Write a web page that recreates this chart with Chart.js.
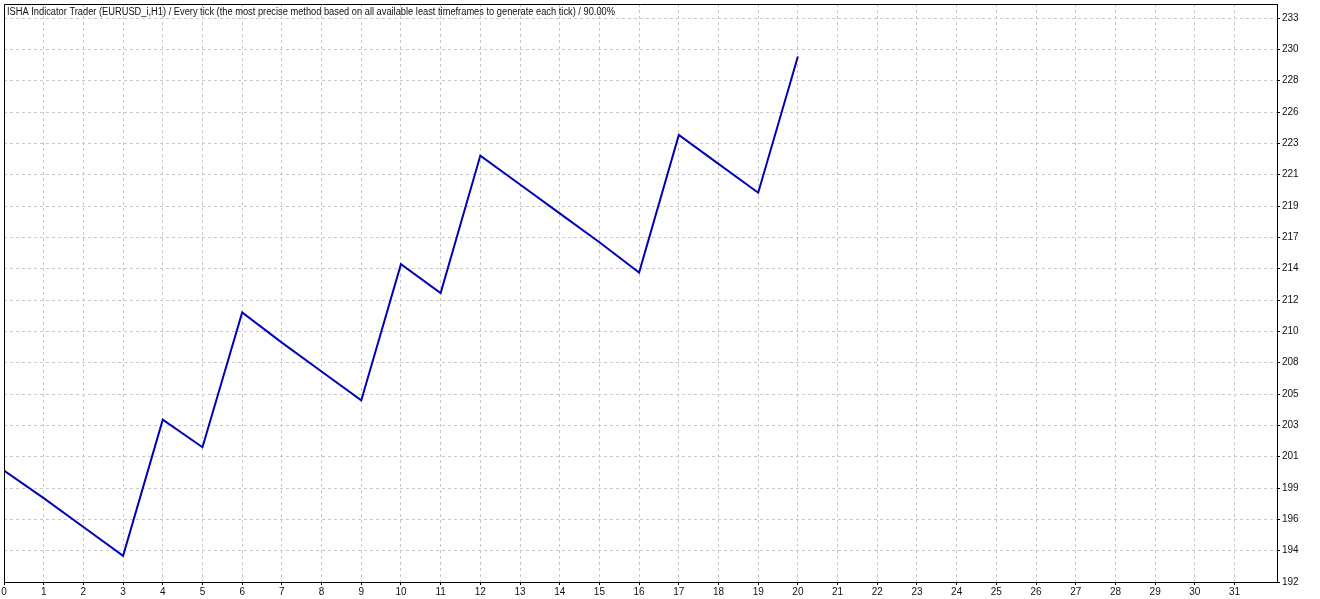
<!DOCTYPE html>
<html>
<head>
<meta charset="utf-8">
<title>ISHA Indicator Trader</title>
<script src="https://cdn.jsdelivr.net/npm/chart.js@4/dist/chart.umd.min.js"></script>
<style>
  html, body { margin: 0; padding: 0; background: #fff; }
  #wrap { width: 1320px; height: 599px; }
</style>
</head>
<body>
<div id="wrap"><canvas id="chart" width="1320" height="599"></canvas></div>
<script>
// balance curve, one value per closed trade
const tradeNumbers = [0, 1, 2, 3, 4, 5, 6, 7, 8, 9, 10, 11, 12, 13, 14, 15, 16, 17, 18, 19, 20];
const balance = [200.1, 198.1, 196.0, 193.9, 203.8, 201.8, 211.6, 209.4, 207.3, 205.2,
                 215.1, 213.0, 223.0, 220.9, 218.8, 216.7, 214.5, 224.5, 222.4, 220.3, 230.2];

// axis ticks as MT4 prints them
const xTicks = [0, 1, 2, 3, 4, 5, 6, 7, 8, 9, 10, 11, 12, 13, 14, 15, 16, 17, 18, 19, 20,
                21, 22, 23, 24, 25, 26, 27, 28, 29, 30, 31];
const yTickLabels = ["192", "194", "196", "199", "201", "203", "205", "208", "210", "212",
                     "214", "217", "219", "221", "223", "226", "228", "230", "233"];

const TITLE = "ISHA Indicator Trader (EURUSD_i,H1) / Every tick (the most precise method based on all available least timeframes to generate each tick) / 90.00%";

const Y_LOW = 192, Y_HIGH = 233;
const Y_STEP = (Y_HIGH - Y_LOW) / (yTickLabels.length - 1);
const GRID = "#c8c8c8";
const FONT = { family: "'Liberation Sans', Arial, sans-serif", size: 10 };

// top/left frame + caption inside the plot
const framePlugin = {
  id: "frame",
  afterDraw(chart) {
    const { ctx, chartArea: a } = chart;
    ctx.save();
    ctx.strokeStyle = "#000";
    ctx.lineWidth = 1;
    ctx.beginPath();
    ctx.moveTo(a.left + 0.5, a.bottom);
    ctx.lineTo(a.left + 0.5, a.top + 0.5);
    ctx.lineTo(a.right, a.top + 0.5);
    ctx.stroke();
    ctx.fillStyle = "#111";
    ctx.font = "10px 'Liberation Sans', Arial, sans-serif";
    ctx.textBaseline = "middle";
    ctx.fillText(TITLE, a.left + 3, a.top + 8, 608);
    ctx.restore();
  }
};

new Chart(document.getElementById("chart"), {
  type: "line",
  data: {
    datasets: [{
      data: tradeNumbers.map((n, i) => ({ x: n, y: balance[i] })),
      borderColor: "#0000b4",
      borderWidth: 2,
      pointRadius: 0,
      tension: 0,
      fill: false
    }]
  },
  options: {
    responsive: false,
    animation: false,
    devicePixelRatio: 1,
    layout: { padding: { left: 4, top: 4, right: 0, bottom: 0 } },
    plugins: { legend: { display: false }, tooltip: { enabled: false } },
    scales: {
      x: {
        type: "linear",
        min: 0,
        max: 32.07,
        afterBuildTicks: (s) => { s.ticks = xTicks.map((v) => ({ value: v })); },
        afterFit: (s) => { s.height = 17; s.paddingLeft = 0; s.paddingRight = 0; },
        grid: { color: GRID, tickColor: "#000", tickLength: 3, tickBorderDash: [] },
        border: { color: "#000", width: 1, dash: [3, 3] },
        ticks: { color: "#111", font: FONT, padding: 1, maxRotation: 0, autoSkip: false,
                 callback: (v) => String(v) }
      },
      y: {
        type: "linear",
        position: "right",
        min: Y_LOW,
        max: 234.02,
        afterBuildTicks: (s) => { s.ticks = yTickLabels.map((_, i) => ({ value: Y_LOW + i * Y_STEP })); },
        afterFit: (s) => { s.width = 43; s.paddingTop = 0; s.paddingBottom = 0; },
        grid: { color: GRID, tickColor: "#000", tickLength: 3, tickBorderDash: [] },
        border: { color: "#000", width: 1, dash: [3, 3] },
        ticks: { color: "#111", font: FONT, padding: 2, autoSkip: false,
                 callback: (v, i) => yTickLabels[i] }
      }
    }
  },
  plugins: [framePlugin]
});
</script>
</body>
</html>
